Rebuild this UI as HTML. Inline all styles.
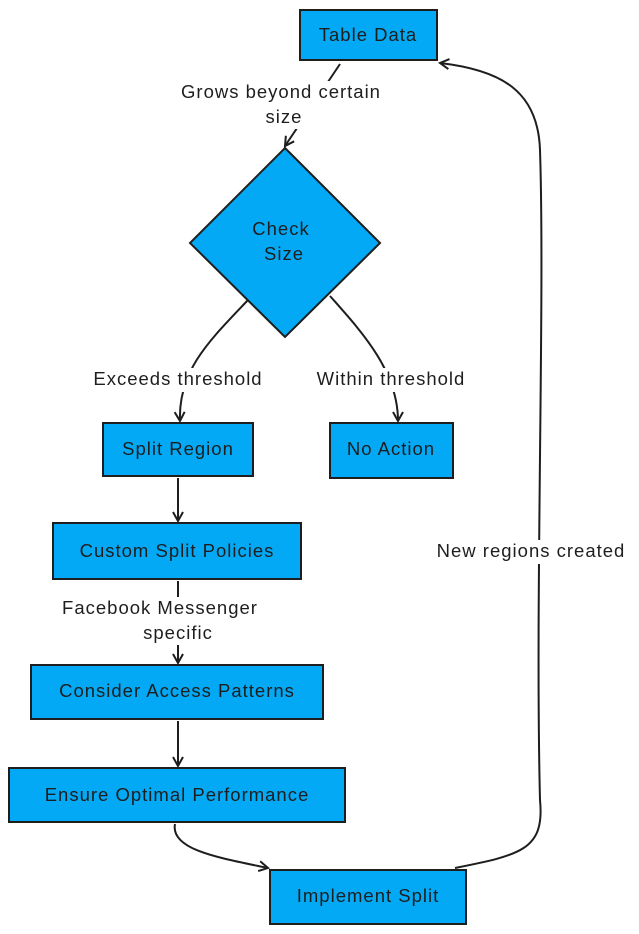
<!DOCTYPE html>
<html><head><meta charset="utf-8"><style>
html,body{margin:0;padding:0;background:#fff;}
svg{display:block;}
text{font-family:"Liberation Sans",sans-serif;font-size:18.5px;letter-spacing:1px;fill:#1e1e1e;text-anchor:middle;dominant-baseline:middle;}
.b{fill:#03a9f4;stroke:#1e1e1e;stroke-width:2;}
.l{fill:none;stroke:#1e1e1e;stroke-width:2;}
.lb{fill:#fff;stroke:none;}
</style></head><body>
<svg width="639" height="934" viewBox="0 0 639 934" xmlns="http://www.w3.org/2000/svg">
<defs><marker id="a" markerWidth="12" markerHeight="12" refX="10" refY="6" orient="auto" markerUnits="userSpaceOnUse"><path d="M1,1 L10,6 L1,11" fill="none" stroke="#1e1e1e" stroke-width="2"/></marker></defs>
<path class="l" d="M340,64 L285,146" marker-end="url(#a)"/>
<path class="l" d="M248,300 C210,340 178,370 180,421" marker-end="url(#a)"/>
<path class="l" d="M330,296 C360,330 398,370 398,421" marker-end="url(#a)"/>
<path class="l" d="M178,478 L178,521" marker-end="url(#a)"/>
<path class="l" d="M178,581 L178,663" marker-end="url(#a)"/>
<path class="l" d="M178,721 L178,766" marker-end="url(#a)"/>
<path class="l" d="M175,824 C170,850 220,858 268,868" marker-end="url(#a)"/>
<path class="l" d="M455,868 C520,855 545,850 540,800 C535,600 545,300 540,150 C538,90 500,70 440,63" marker-end="url(#a)"/>
<rect class="lb" x="170" y="81" width="224" height="48"/>
<rect class="lb" x="84" y="368" width="190" height="24"/>
<rect class="lb" x="308" y="368" width="168" height="24"/>
<rect class="lb" x="70" y="597" width="182" height="48"/>
<rect class="lb" x="430" y="540" width="206" height="24"/>
<text x="281" y="93">Grows beyond certain</text>
<text x="284" y="118">size</text>
<text x="178" y="380">Exceeds threshold</text>
<text x="391" y="380">Within threshold</text>
<text x="160" y="609">Facebook Messenger</text>
<text x="178" y="634">specific</text>
<text x="531" y="552">New regions created</text>
<rect class="b" x="300" y="10" width="137" height="50"/><text x="368" y="36">Table Data</text>
<polygon class="b" points="285,148 380,243 285,337 190,243"/><text x="281" y="230">Check</text><text x="284" y="255">Size</text>
<rect class="b" x="103" y="423" width="150" height="53"/><text x="178" y="450">Split Region</text>
<rect class="b" x="330" y="423" width="123" height="55"/><text x="391" y="450">No Action</text>
<rect class="b" x="53" y="523" width="248" height="56"/><text x="177" y="552">Custom Split Policies</text>
<rect class="b" x="31" y="665" width="292" height="54"/><text x="177" y="692">Consider Access Patterns</text>
<rect class="b" x="9" y="768" width="336" height="54"/><text x="177" y="796">Ensure Optimal Performance</text>
<rect class="b" x="270" y="870" width="196" height="54"/><text x="368" y="897">Implement Split</text>
</svg>
</body></html>
